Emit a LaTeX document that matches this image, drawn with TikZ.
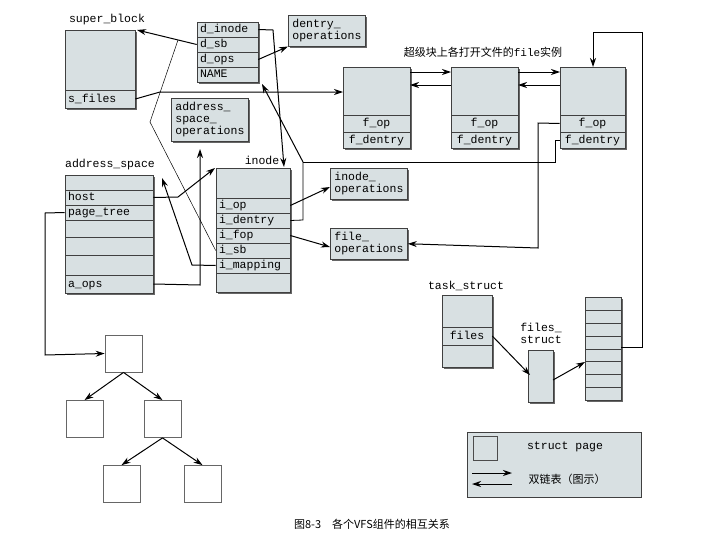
\documentclass[tikz,border=0pt]{standalone}
\usepackage{fontspec}
\setmainfont{Liberation Serif}
\newfontfamily\mono{Liberation Mono}
\newfontfamily\cjk{Noto Sans CJK SC}
\usetikzlibrary{arrows.meta,shadows}
\definecolor{boxfill}{HTML}{D8E0E2}
\newcommand\bx[5]{\node[box,minimum width={(#4-#2)*1pt},minimum height={(#5-#3)*1pt}] (#1) at ({(#2+#4)/2},{(#3+#5)/2}) {};}
\newcommand\fld[7]{\node[fld,minimum width={(#4-#2)*1pt},minimum height={(#5-#3)*1pt},#7] (#1) at ({(#2+#4)/2},{(#3+#5)/2}) {#6};}
\begin{document}
\begin{tikzpicture}[x=1pt,y=-1pt,
  box/.style={draw=black!75,line width=0.8pt,fill=boxfill,inner sep=0pt,drop shadow={shadow xshift=1.5pt,shadow yshift=-1.5pt,fill=black!60,opacity=1}},
  fld/.style={draw=black!75,line width=0.6pt,inner sep=0pt,font=\mono\fontsize{11.5}{12}\selectfont,text height=8pt,text depth=2pt},
  lft/.style={text width={(#1-6)*1pt},align=left},
  lbl/.style={font=\mono\fontsize{11.5}{12}\selectfont,inner sep=0pt},
  opsbox/.style={box,font=\mono\fontsize{11.5}{12}\selectfont,align=left,inner sep=4pt},
  ar/.style={line width=1pt,-{Stealth[length=9pt,width=6pt]}},
  ln/.style={line width=0.8pt},
  thin/.style={line width=0.5pt},
  pg/.style={draw=black!60,line width=0.8pt,fill=white,minimum size=37pt,inner sep=0pt}]
\useasboundingbox (0,0) rectangle (706,546);

% super_block
\node[lbl] (sbl) at (107,20) {super\_block};
\bx{sb}{65}{30}{135}{108}
\fld{sfiles}{65}{90}{135}{108}{s\_files}{lft=70}

% dentry
\bx{dent}{197}{22}{258}{82}
\fld{dinode}{197}{22}{258}{37}{d\_inode}{lft=61}
\fld{dsb}{197}{37}{258}{52}{d\_sb}{lft=61}
\fld{dops}{197}{52}{258}{67}{d\_ops}{lft=61}
\fld{dname}{197}{67}{258}{82}{NAME}{lft=61}

\node[opsbox,anchor=north west] (dops2) at (288,15) {dentry\_\\operations};
\node[opsbox,anchor=north west] (asops) at (171,98) {address\_\\space\_\\operations};
\node[opsbox,anchor=north west] (iops) at (330,168) {inode\_\\operations};
\node[opsbox,anchor=north west] (fops) at (330,228) {file\_\\operations};

% inode
\node[lbl] (inl) at (262,160) {inode};
\bx{inode}{216}{168}{290}{292}
\fld{iop}{216}{198}{290}{213}{i\_op}{lft=74}
\fld{iden}{216}{213}{290}{228}{i\_dentry}{lft=74}
\fld{ifop}{216}{228}{290}{243}{i\_fop}{lft=74}
\fld{isb}{216}{243}{290}{258}{i\_sb}{lft=74}
\fld{imap}{216}{258}{290}{273}{i\_mapping}{lft=74}

% address_space
\node[lbl] (asl) at (110,165) {address\_space};
\bx{as}{65}{175}{153}{293}
\fld{host}{65}{190}{153}{205}{host}{lft=88}
\fld{ptree}{65}{205}{153}{220}{page\_tree}{lft=88}
\fld{a1}{65}{220}{153}{237}{}{}
\fld{a2}{65}{237}{153}{255}{}{}
\fld{aops}{65}{275}{153}{293}{a\_ops}{lft=88}

% files
\node[font=\cjk\fontsize{11}{12}\selectfont,inner sep=0pt] (ftitle) at (483,52) {超级块上各打开文件的{\mono file}实例};
\bx{f1}{343}{67}{410}{148}
\fld{f1op}{343}{115}{410}{132}{f\_op}{}
\fld{f1de}{343}{132}{410}{148}{f\_dentry}{}
\bx{f2}{451}{67}{518}{148}
\fld{f2op}{451}{115}{518}{132}{f\_op}{}
\fld{f2de}{451}{132}{518}{148}{f\_dentry}{}
\bx{f3}{560}{67}{625}{148}
\fld{f3op}{560}{115}{625}{132}{f\_op}{}
\fld{f3de}{560}{132}{625}{148}{f\_dentry}{}

\draw[ar] (410,72) -- (451,72);
\draw[ar] (451,85) -- (410,85);
\draw[ar] (518,72) -- (560,72);
\draw[ar] (560,85) -- (518,85);

% task_struct
\node[lbl] (tsl) at (466,286) {task\_struct};
\bx{ts}{442}{295}{492}{367}
\fld{tsf}{442}{327}{492}{345}{files}{}
\node[lbl,align=center] (fsl) at (541,333) {files\_\\struct};
\bx{fs}{528}{350}{553}{402}
\bx{fd}{585}{297}{621}{400}
\foreach \y in {310,323,336,349,361,374,387} \draw[draw=black!75,line width=0.6pt] (585,\y) -- (621,\y);
\coordinate (fdr) at (621,347);
\draw[ar] (tsf.east) -- (530,375);
\draw[ar] (553,380) -- (585,362);
\draw[ar] (fdr) -- (642,347) -- (642,32) -- (593,32) -- (593,67);

% legend
\node[draw=black!75,line width=0.8pt,fill=boxfill,minimum width=174pt,minimum height=65pt,inner sep=0pt] (leg) at (554,464.5) {};
\node[draw=black!70,fill=boxfill,minimum size=24pt,inner sep=0pt] (legsq) at (485,448.5) {};
\node[lbl] (legt1) at (565,447) {struct page};
\draw[ar] (472,473) -- (512,473);
\draw[ar] (512,484) -- (472,484);
\node[font=\cjk\fontsize{11}{12}\selectfont,inner sep=0pt] (legt2) at (567,479) {双链表（图示）};

% tree
\node[pg] (t0) at (123.5,353.5) {};
\node[pg] (t1) at (84.5,419) {};
\node[pg] (t2) at (162.5,419) {};
\node[pg] (t3) at (121.5,484) {};
\node[pg] (t4) at (202.5,484) {};
\draw[ar] (t0.south) -- (t1.north);
\draw[ar] (t0.south) -- (t2.north);
\draw[ar] (t2.south) -- (t3.north);
\draw[ar] (t2.south) -- (t4.north);

% connectors
\draw[ar] (dsb.west) -- (137,30);
\draw[thin] (isb.west) -- (150,122) -- (178,40);
\draw[ar] (dinode.east) -- (273,30) -- (284,167);
\draw[ar] (dops.east) -- (dops2.south west);
\draw[ar] (sfiles.east) -- (160,92) -- (343,92);
\draw[ln] (f3de.west) -- (555,140) -- (555,162) -- (303,162);
\draw[ar] (303,162) -- (262,84);
\draw[ln] (iden.east) -- (303,220) -- (303,162);
\draw[ar] (f3op.west) -- (538,123) -- (538,248) -- (fops.east);
\draw[ar] (host.east) -- (178,197) -- (215,168);
\draw[ar] (imap.west) -- (192,265) -- (162,178);
\draw[ar] (aops.east) -- (200,285) -- (200,149);
\draw[ar] (iop.east) -- (330,187);
\draw[ar] (ifop.east) -- (330,247);
\draw[ar] (ptree.west) -- (45,213) -- (45,355) -- (t0.west);

\node[font=\cjk\fontsize{11}{12}\selectfont,inner sep=0pt] (cap) at (372,524) {图8-3\quad 各个VFS组件的相互关系};
\end{tikzpicture}
\end{document}
